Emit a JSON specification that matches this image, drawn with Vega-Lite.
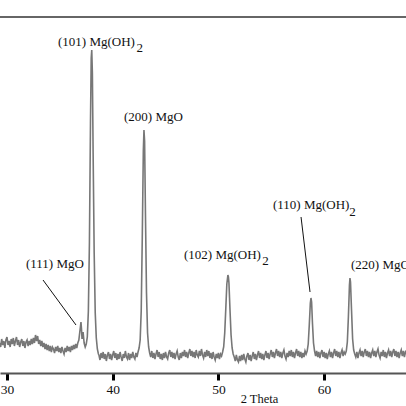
{
  "$schema": "https://vega.github.io/schema/vega-lite/v6.json",
  "autosize": "none",
  "width": 406,
  "height": 356,
  "padding": {"left": 0, "top": 17, "right": 0, "bottom": 33},
  "background": "white",
  "config": {"view": {"stroke": null}},
  "datasets": {
    "spectrum": [
      {"t":29.3,"i":30},{"t":29.4,"i":26},{"t":29.5,"i":34},{"t":29.6,"i":28},{"t":29.7,"i":32},{"t":29.8,"i":25},{"t":29.9,"i":33},{"t":30.0,"i":36},{"t":30.1,"i":28},{"t":30.2,"i":32},{"t":30.3,"i":26},{"t":30.4,"i":34},{"t":30.5,"i":29},{"t":30.6,"i":35},{"t":30.7,"i":27},{"t":30.8,"i":32},{"t":30.9,"i":36},{"t":31.0,"i":28},{"t":31.1,"i":33},{"t":31.2,"i":26},{"t":31.3,"i":31},{"t":31.4,"i":34},{"t":31.5,"i":27},{"t":31.6,"i":32},{"t":31.7,"i":25},{"t":31.8,"i":31},{"t":31.9,"i":33},{"t":32.0,"i":27},{"t":32.1,"i":32},{"t":32.2,"i":28},{"t":32.3,"i":34},{"t":32.4,"i":29},{"t":32.5,"i":35},{"t":32.6,"i":30},{"t":32.7,"i":38},{"t":32.8,"i":32},{"t":32.9,"i":37},{"t":33.0,"i":29},{"t":33.1,"i":33},{"t":33.2,"i":27},{"t":33.3,"i":32},{"t":33.4,"i":26},{"t":33.5,"i":30},{"t":33.6,"i":24},{"t":33.7,"i":29},{"t":33.8,"i":23},{"t":33.9,"i":28},{"t":34.0,"i":22},{"t":34.1,"i":27},{"t":34.2,"i":21},{"t":34.3,"i":26},{"t":34.4,"i":24},{"t":34.5,"i":20},{"t":34.6,"i":26},{"t":34.7,"i":22},{"t":34.8,"i":27},{"t":34.9,"i":21},{"t":35.0,"i":25},{"t":35.1,"i":20},{"t":35.2,"i":26},{"t":35.3,"i":22},{"t":35.4,"i":19},{"t":35.5,"i":25},{"t":35.6,"i":21},{"t":35.7,"i":27},{"t":35.8,"i":22},{"t":35.9,"i":26},{"t":36.0,"i":21},{"t":36.1,"i":27},{"t":36.2,"i":23},{"t":36.3,"i":28},{"t":36.4,"i":24},{"t":36.5,"i":29},{"t":36.6,"i":25},{"t":36.7,"i":30},{"t":36.8,"i":33},
      {"t":36.9,"i":42},{"t":37.0,"i":51},{"t":37.05,"i":44},{"t":37.1,"i":34},{"t":37.2,"i":41},{"t":37.3,"i":30},{"t":37.4,"i":26},{"t":37.5,"i":29},{"t":37.6,"i":36},{"t":37.7,"i":62},{"t":37.8,"i":130},{"t":37.9,"i":250},{"t":37.97,"i":315},{"t":38.02,"i":323},{"t":38.08,"i":300},{"t":38.15,"i":220},{"t":38.25,"i":120},{"t":38.35,"i":60},{"t":38.45,"i":35},{"t":38.55,"i":24},{"t":38.65,"i":19},
      {"t":38.7,"i":18},{"t":38.8,"i":13},{"t":38.9,"i":20},{"t":39.0,"i":15},{"t":39.1,"i":21},{"t":39.2,"i":14},{"t":39.3,"i":19},{"t":39.4,"i":12},{"t":39.5,"i":18},{"t":39.6,"i":21},{"t":39.7,"i":14},{"t":39.8,"i":19},{"t":39.9,"i":13},{"t":40.0,"i":18},{"t":40.1,"i":22},{"t":40.2,"i":15},{"t":40.3,"i":20},{"t":40.4,"i":13},{"t":40.5,"i":19},{"t":40.6,"i":14},{"t":40.7,"i":21},{"t":40.8,"i":16},{"t":40.9,"i":12},{"t":41.0,"i":19},{"t":41.1,"i":15},{"t":41.2,"i":22},{"t":41.3,"i":16},{"t":41.4,"i":14},{"t":41.5,"i":20},{"t":41.6,"i":13},{"t":41.7,"i":19},{"t":41.8,"i":15},{"t":41.9,"i":21},{"t":42.0,"i":16},{"t":42.1,"i":14},{"t":42.2,"i":20},{"t":42.3,"i":16},{"t":42.4,"i":21},
      {"t":42.5,"i":25},{"t":42.6,"i":33},{"t":42.7,"i":62},{"t":42.8,"i":135},{"t":42.9,"i":222},{"t":42.96,"i":243},{"t":43.02,"i":232},{"t":43.1,"i":160},{"t":43.2,"i":80},{"t":43.3,"i":40},{"t":43.4,"i":26},{"t":43.5,"i":20},
      {"t":43.6,"i":16},{"t":43.7,"i":22},{"t":43.8,"i":15},{"t":43.9,"i":20},{"t":44.0,"i":14},{"t":44.1,"i":19},{"t":44.2,"i":23},{"t":44.3,"i":16},{"t":44.4,"i":21},{"t":44.5,"i":14},{"t":44.6,"i":19},{"t":44.7,"i":13},{"t":44.8,"i":20},{"t":44.9,"i":15},{"t":45.0,"i":21},{"t":45.1,"i":16},{"t":45.2,"i":14},{"t":45.3,"i":20},{"t":45.4,"i":23},{"t":45.5,"i":16},{"t":45.6,"i":21},{"t":45.7,"i":15},{"t":45.8,"i":20},{"t":45.9,"i":14},{"t":46.0,"i":19},{"t":46.1,"i":22},{"t":46.2,"i":16},{"t":46.3,"i":13},{"t":46.4,"i":20},{"t":46.5,"i":15},{"t":46.6,"i":21},{"t":46.7,"i":17},{"t":46.8,"i":23},{"t":46.9,"i":16},{"t":47.0,"i":21},{"t":47.1,"i":15},{"t":47.2,"i":20},{"t":47.3,"i":24},{"t":47.4,"i":17},{"t":47.5,"i":22},{"t":47.6,"i":16},{"t":47.7,"i":21},{"t":47.8,"i":15},{"t":47.9,"i":23},{"t":48.0,"i":18},{"t":48.1,"i":16},{"t":48.2,"i":22},{"t":48.3,"i":17},{"t":48.4,"i":24},{"t":48.5,"i":18},{"t":48.6,"i":15},{"t":48.7,"i":21},{"t":48.8,"i":16},{"t":48.9,"i":23},{"t":49.0,"i":17},{"t":49.1,"i":22},{"t":49.2,"i":15},{"t":49.3,"i":20},{"t":49.4,"i":14},{"t":49.5,"i":21},{"t":49.6,"i":16},{"t":49.7,"i":13},{"t":49.8,"i":19},{"t":49.9,"i":15},{"t":50.0,"i":20},{"t":50.1,"i":14},{"t":50.2,"i":19},{"t":50.3,"i":17},
      {"t":50.4,"i":21},{"t":50.5,"i":26},{"t":50.6,"i":40},{"t":50.7,"i":64},{"t":50.8,"i":89},{"t":50.9,"i":98},{"t":50.95,"i":96},{"t":51.0,"i":90},{"t":51.1,"i":63},{"t":51.2,"i":38},{"t":51.3,"i":25},{"t":51.4,"i":19},
      {"t":51.5,"i":16},{"t":51.6,"i":12},{"t":51.7,"i":18},{"t":51.8,"i":13},{"t":51.9,"i":11},{"t":52.0,"i":17},{"t":52.1,"i":12},{"t":52.2,"i":18},{"t":52.3,"i":13},{"t":52.4,"i":19},{"t":52.5,"i":14},{"t":52.6,"i":11},{"t":52.7,"i":17},{"t":52.8,"i":20},{"t":52.9,"i":13},{"t":53.0,"i":18},{"t":53.1,"i":12},{"t":53.2,"i":17},{"t":53.3,"i":21},{"t":53.4,"i":14},{"t":53.5,"i":19},{"t":53.6,"i":13},{"t":53.7,"i":18},{"t":53.8,"i":22},{"t":53.9,"i":15},{"t":54.0,"i":20},{"t":54.1,"i":14},{"t":54.2,"i":19},{"t":54.3,"i":13},{"t":54.4,"i":18},{"t":54.5,"i":22},{"t":54.6,"i":15},{"t":54.7,"i":20},{"t":54.8,"i":14},{"t":54.9,"i":19},{"t":55.0,"i":23},{"t":55.1,"i":16},{"t":55.2,"i":21},{"t":55.3,"i":15},{"t":55.4,"i":20},{"t":55.5,"i":24},{"t":55.6,"i":17},{"t":55.7,"i":22},{"t":55.8,"i":16},{"t":55.9,"i":21},{"t":56.0,"i":15},{"t":56.1,"i":20},{"t":56.2,"i":23},{"t":56.3,"i":17},{"t":56.4,"i":14},{"t":56.5,"i":20},{"t":56.6,"i":16},{"t":56.7,"i":22},{"t":56.8,"i":17},{"t":56.9,"i":23},{"t":57.0,"i":16},{"t":57.1,"i":21},{"t":57.2,"i":15},{"t":57.3,"i":20},{"t":57.4,"i":24},{"t":57.5,"i":17},{"t":57.6,"i":22},{"t":57.7,"i":16},{"t":57.8,"i":21},{"t":57.9,"i":15},{"t":58.0,"i":20},{"t":58.1,"i":16},{"t":58.2,"i":22},{"t":58.3,"i":19},
      {"t":58.4,"i":22},{"t":58.5,"i":29},{"t":58.6,"i":48},{"t":58.7,"i":70},{"t":58.76,"i":75},{"t":58.82,"i":71},{"t":58.9,"i":50},{"t":59.0,"i":30},{"t":59.1,"i":22},
      {"t":59.2,"i":17},{"t":59.3,"i":22},{"t":59.4,"i":16},{"t":59.5,"i":21},{"t":59.6,"i":15},{"t":59.7,"i":20},{"t":59.8,"i":23},{"t":59.9,"i":16},{"t":60.0,"i":21},{"t":60.1,"i":15},{"t":60.2,"i":20},{"t":60.3,"i":14},{"t":60.4,"i":19},{"t":60.5,"i":22},{"t":60.6,"i":16},{"t":60.7,"i":21},{"t":60.8,"i":15},{"t":60.9,"i":20},{"t":61.0,"i":24},{"t":61.1,"i":17},{"t":61.2,"i":22},{"t":61.3,"i":16},{"t":61.4,"i":21},{"t":61.5,"i":15},{"t":61.6,"i":20},{"t":61.7,"i":23},{"t":61.8,"i":17},{"t":61.9,"i":21},{"t":62.0,"i":19},
      {"t":62.1,"i":22},{"t":62.2,"i":31},{"t":62.3,"i":56},{"t":62.4,"i":88},{"t":62.45,"i":95},{"t":62.5,"i":91},{"t":62.6,"i":62},{"t":62.7,"i":34},{"t":62.8,"i":23},{"t":62.9,"i":19},
      {"t":63.0,"i":16},{"t":63.1,"i":21},{"t":63.2,"i":15},{"t":63.3,"i":20},{"t":63.4,"i":23},{"t":63.5,"i":17},{"t":63.6,"i":22},{"t":63.7,"i":16},{"t":63.8,"i":21},{"t":63.9,"i":24},{"t":64.0,"i":17},{"t":64.1,"i":22},{"t":64.2,"i":16},{"t":64.3,"i":21},{"t":64.4,"i":15},{"t":64.5,"i":20},{"t":64.6,"i":23},{"t":64.7,"i":17},{"t":64.8,"i":22},{"t":64.9,"i":16},{"t":65.0,"i":21},{"t":65.1,"i":24},{"t":65.2,"i":18},{"t":65.3,"i":15},{"t":65.4,"i":21},{"t":65.5,"i":17},{"t":65.6,"i":23},{"t":65.7,"i":16},{"t":65.8,"i":21},{"t":65.9,"i":15},{"t":66.0,"i":20},{"t":66.1,"i":23},{"t":66.2,"i":17},{"t":66.3,"i":22},{"t":66.4,"i":16},{"t":66.5,"i":21},{"t":66.6,"i":24},{"t":66.7,"i":17},{"t":66.8,"i":22},{"t":66.9,"i":16},{"t":67.0,"i":21},{"t":67.1,"i":15},{"t":67.2,"i":20},{"t":67.3,"i":23},{"t":67.4,"i":17},{"t":67.5,"i":22},{"t":67.6,"i":16},{"t":67.7,"i":21},{"t":67.8,"i":19}
    ],
    "labels": [
      {"t":34.83,"i":331,"text":"(101) Mg(OH)"},
      {"t":41.07,"i":256,"text":"(200) MgO"},
      {"t":31.80,"i":109,"text":"(111) MgO"},
      {"t":46.75,"i":118,"text":"(102) Mg(OH)"},
      {"t":55.17,"i":168,"text":"(110) Mg(OH)"},
      {"t":62.55,"i":108,"text":"(220) MgO"}
    ],
    "subs": [
      {"t":42.25,"i":325,"text":"2"},
      {"t":54.15,"i":112,"text":"2"},
      {"t":62.38,"i":161,"text":"2"}
    ],
    "leaders": [
      {"t":33.41,"i":93,"t2":36.53,"i2":48},
      {"t":57.82,"i":156,"t2":58.67,"i2":81}
    ],
    "frame": [{"i":356}]
  },
  "layer": [
    {
      "data": {"name": "spectrum"},
      "mark": {"type": "line", "color": "#777777", "strokeWidth": 1.6, "clip": true},
      "encoding": {
        "x": {"field": "t", "type": "quantitative",
          "scale": {"domain": [29.34, 67.75], "nice": false, "zero": false},
          "axis": {"title": "2 Theta", "values": [30, 40, 50, 60], "grid": false,
            "domainColor": "#555555", "domainWidth": 2,
            "tickColor": "#000000", "tickWidth": 3, "tickSize": 7,
            "labelFont": "Liberation Serif", "labelFontSize": 13.5, "labelColor": "#111111", "labelPadding": 2,
            "titleFont": "Liberation Serif", "titleFontSize": 12.5, "titleFontWeight": "normal", "titleColor": "#111111",
            "titleX": 259, "titleY": 29, "titleAnchor": "middle", "titleBaseline": "alphabetic"}},
        "y": {"field": "i", "type": "quantitative", "scale": {"domain": [0, 356], "nice": false}, "axis": null}
      }
    },
    {
      "data": {"name": "frame"},
      "mark": {"type": "rule", "color": "#666666", "strokeWidth": 2},
      "encoding": {"y": {"field": "i", "type": "quantitative", "axis": null}}
    },
    {
      "data": {"name": "leaders"},
      "mark": {"type": "rule", "color": "#111111", "strokeWidth": 1},
      "encoding": {
        "x": {"field": "t", "type": "quantitative"},
        "x2": {"field": "t2"},
        "y": {"field": "i", "type": "quantitative", "axis": null},
        "y2": {"field": "i2"}
      }
    },
    {
      "data": {"name": "labels"},
      "mark": {"type": "text", "align": "left", "baseline": "middle", "font": "Liberation Serif", "fontSize": 13, "color": "#111111"},
      "encoding": {
        "x": {"field": "t", "type": "quantitative"},
        "y": {"field": "i", "type": "quantitative", "axis": null},
        "text": {"field": "text"}
      }
    },
    {
      "data": {"name": "subs"},
      "mark": {"type": "text", "align": "left", "baseline": "middle", "font": "Liberation Serif", "fontSize": 13, "color": "#111111"},
      "encoding": {
        "x": {"field": "t", "type": "quantitative"},
        "y": {"field": "i", "type": "quantitative", "axis": null},
        "text": {"field": "text"}
      }
    }
  ]
}
